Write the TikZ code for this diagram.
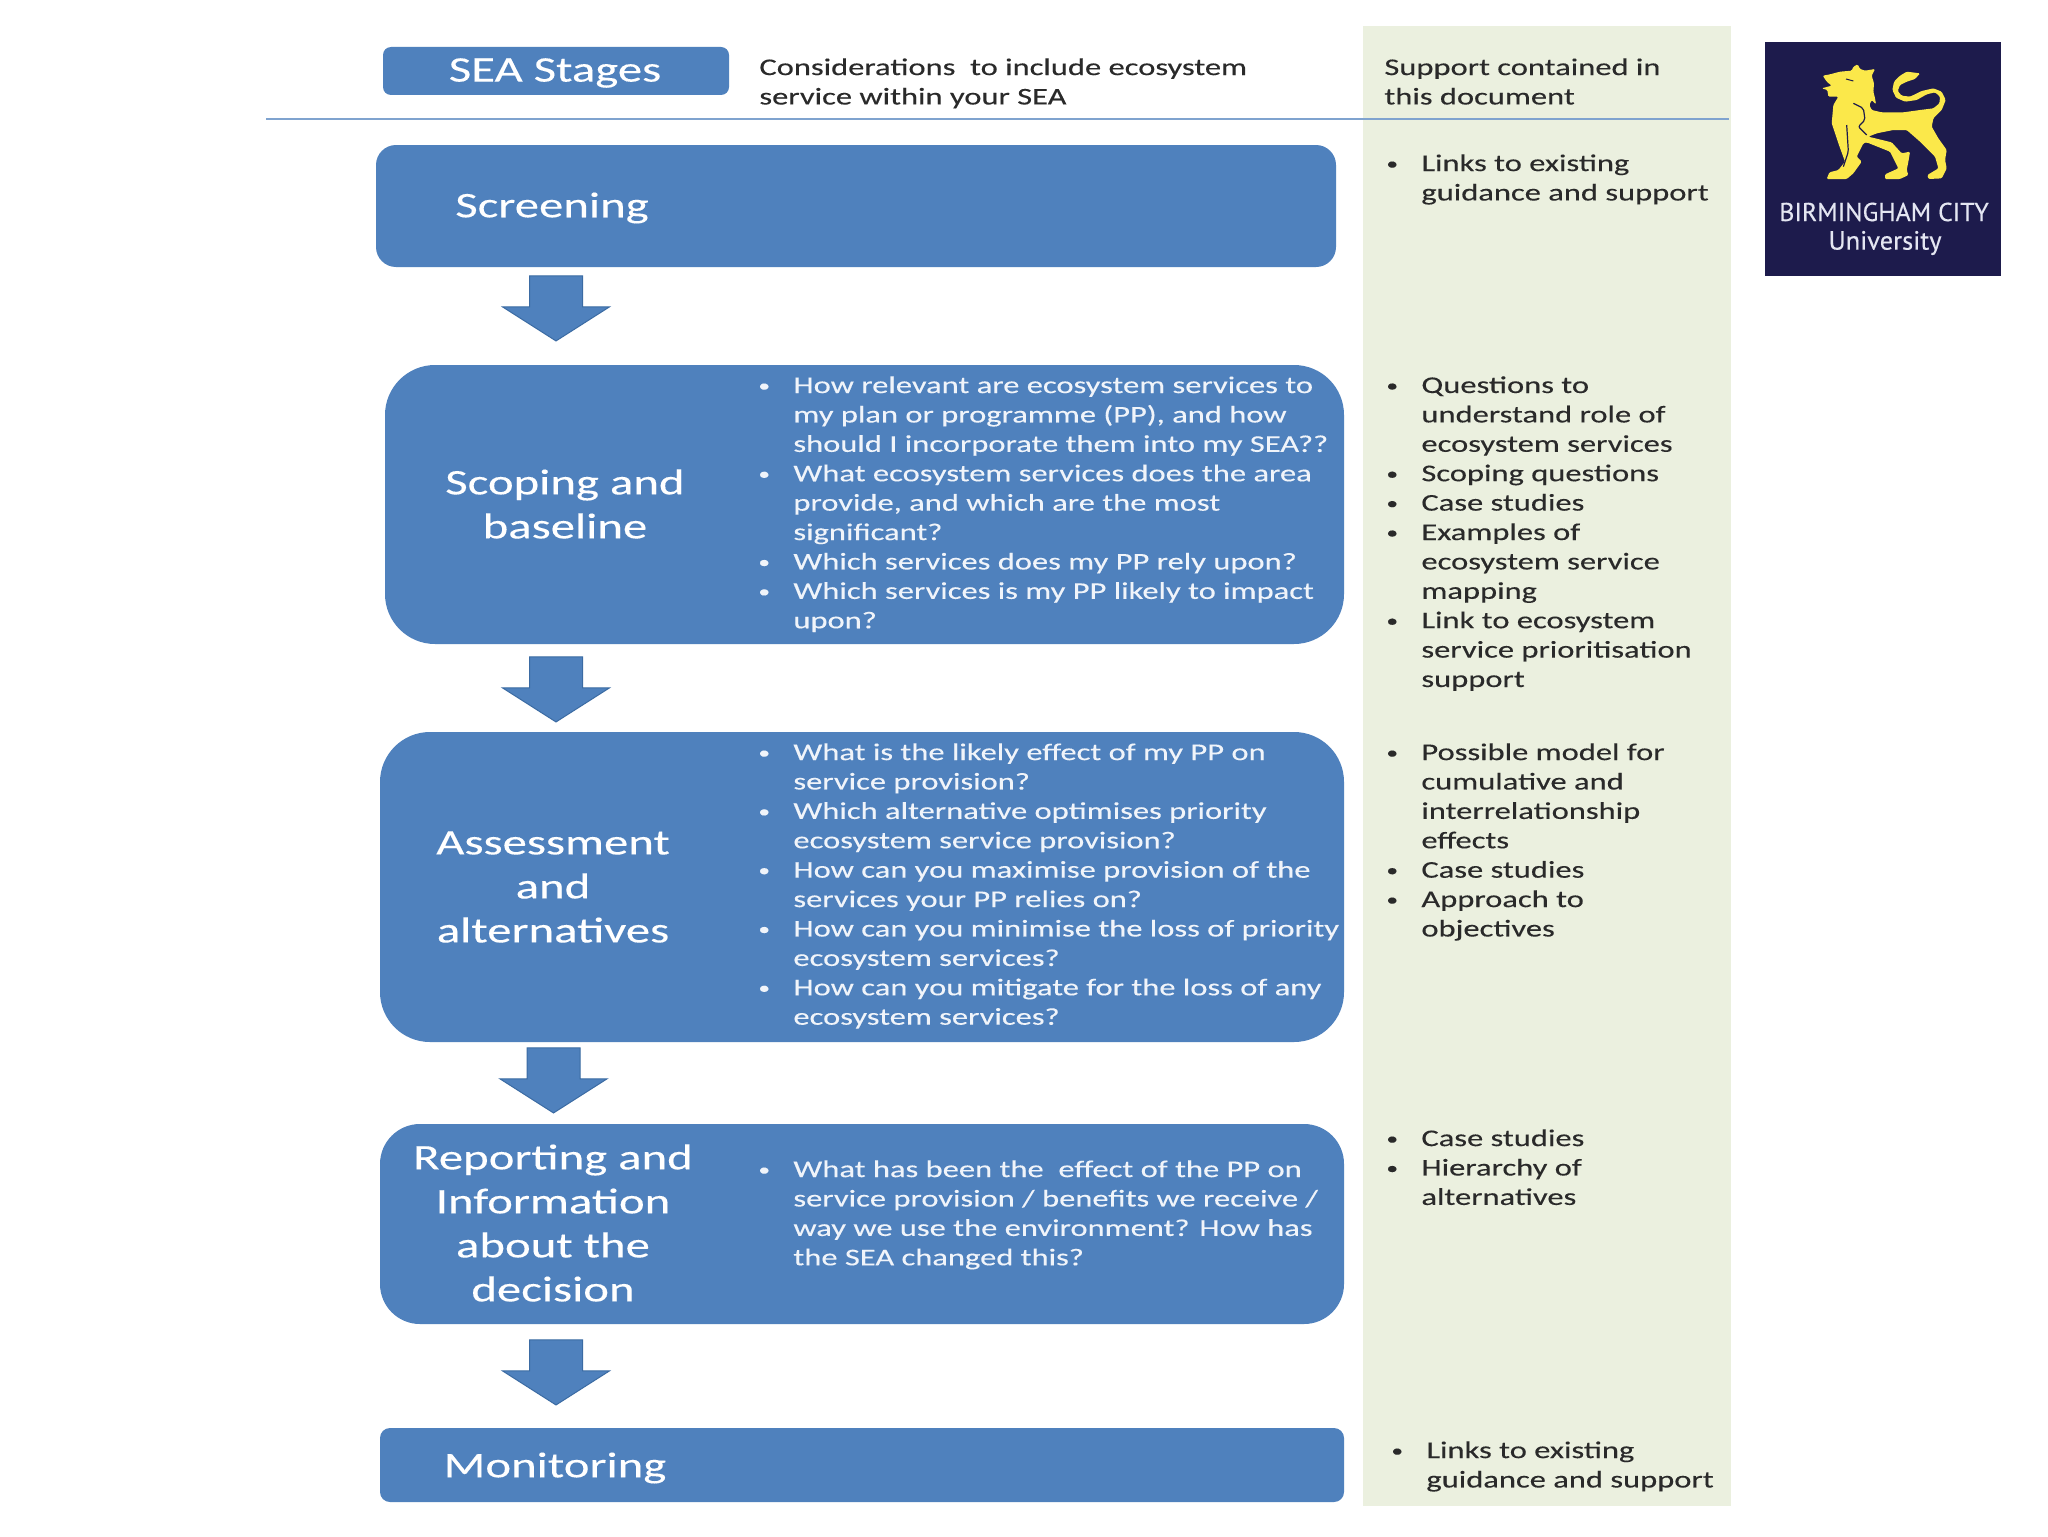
\documentclass[tikz,border=0pt]{standalone}
\usepackage{fontspec}
\setmainfont{Carlito}[FakeStretch=1.355,FakeBold=0.25]
\newfontfamily\logofont{PT Sans}[FakeBold=0.3]
\usetikzlibrary{shapes.arrows}
\definecolor{boxblue}{HTML}{4F81BD}
\definecolor{arrowedge}{HTML}{3B6BA3}
\definecolor{panelgreen}{HTML}{EBF0DF}
\definecolor{ruleblue}{HTML}{7FA3CF}
\definecolor{inkdark}{HTML}{2A2A2A}
\definecolor{bodywhite}{HTML}{F0F4FA}
\definecolor{navy}{HTML}{1D1B4C}
\definecolor{lionyellow}{HTML}{FBE84A}
\definecolor{logotext}{HTML}{E4E6F2}
\newcommand{\bl}{\makebox[17pt][l]{\hspace*{-0.5pt}\raisebox{0.8pt}{\scalebox{0.72}{\textbullet}}}}
\newcommand{\ct}{\hspace*{17pt}}
\tikzset{
  x=0.5pt,y=-0.5pt,
  stagebox/.style={fill=boxblue,draw=none,rounded corners=#1,inner sep=0pt},
  blockarrow/.style={shape=single arrow,fill=boxblue,draw=arrowedge,line width=0.5pt,
    rotate=270,single arrow tip angle=115,single arrow head extend=13.5pt,
    minimum height=32.5pt,inner xsep=0pt,inner ysep=13pt},
  title/.style={text=white,align=center,inner sep=0pt,font=\fontsize{18}{22}\selectfont},
  bodytext/.style={text=bodywhite,align=left,anchor=north west,inner sep=0pt,font=\fontsize{12}{14.7}\selectfont},
  sidetext/.style={text=inkdark,align=left,anchor=north west,inner sep=0pt,font=\fontsize{12}{14.7}\selectfont},
}
\begin{document}
\begin{tikzpicture}
\useasboundingbox (0,0) rectangle (2048,1536);
\fill[white] (0,0) rectangle (2048,1536);
% panel and rule
\node[fill=panelgreen,inner sep=0pt,minimum width=184pt,minimum height=740pt] (panel) at (1547,766) {};
\coordinate (ruleL) at (266,119);
\coordinate (ruleR) at (1729,119);
\draw[ruleblue,line width=1pt] (ruleL) -- (ruleR);
% header
\node[stagebox=4pt,minimum width=173pt,minimum height=24pt] (seabox) at (556,71) {};
\node[title] (seatxt) at (555,73) {SEA Stages};
\node[sidetext] (hdrmid) at (759,58) {Considerations\ \ to include ecosystem\\service within your SEA};
\node[sidetext] (hdrright) at (1384,58) {Support contained in\\this document};
% stage boxes
\node[stagebox=10pt,minimum width=480pt,minimum height=61pt] (screen) at (856,206) {};
\node[stagebox=25pt,minimum width=479.5pt,minimum height=139.5pt] (scope) at (864.5,504.5) {};
\node[stagebox=25pt,minimum width=482pt,minimum height=155pt] (assess) at (862,887) {};
\node[stagebox=20pt,minimum width=482pt,minimum height=100pt] (report) at (862,1224) {};
\node[stagebox=5pt,minimum width=482pt,minimum height=37pt] (monitor) at (862,1465) {};
% arrows
\node[blockarrow] (a1) at (556,300) {};
\node[blockarrow] (a2) at (556,681) {};
\node[blockarrow] (a3) at (553.5,1072) {};
\node[blockarrow] (a4) at (556,1364) {};
% titles
\node[title] (t1) at (552,208) {Screening};
\node[title] (t2) at (565,504) {Scoping and\\baseline};
\node[title] (t3) at (553,887) {Assessment\\and\\alternatives};
\node[title] (t4) at (553,1223) {Reporting and\\Information\\about the\\decision};
\node[title] (t5) at (555,1468) {Monitoring};
% body
\node[bodytext] (b2) at (759,376) {\bl How relevant are ecosystem services to\\
\ct my plan or programme (PP), and how\\
\ct should I incorporate them into my SEA??\\
\bl What ecosystem services does the area\\
\ct provide, and which are the most\\
\ct significant?\\
\bl Which services does my PP rely upon?\\
\bl Which services is my PP likely to impact\\
\ct upon?};
\node[bodytext] (b3) at (759,743) {\bl What is the likely effect of my PP on\\
\ct service provision?\\
\bl Which alternative optimises priority\\
\ct ecosystem service provision?\\
\bl How can you maximise provision of the\\
\ct services your PP relies on?\\
\bl How can you minimise the loss of priority\\
\ct ecosystem services?\\
\bl How can you mitigate for the loss of any\\
\ct ecosystem services?};
\node[bodytext] (b4) at (759,1160) {\bl What has been the\ \ effect of the PP on\\
\ct service provision / benefits we receive /\\
\ct way we use the environment? How has\\
\ct the SEA changed this?};
% side
\node[sidetext] (s1) at (1387,154) {\bl Links to existing\\
\ct guidance and support};
\node[sidetext] (s2) at (1387,376) {\bl Questions to\\
\ct understand role of\\
\ct ecosystem services\\
\bl Scoping questions\\
\bl Case studies\\
\bl Examples of\\
\ct ecosystem service\\
\ct mapping\\
\bl Link to ecosystem\\
\ct service prioritisation\\
\ct support};
\node[sidetext] (s3) at (1387,743) {\bl Possible model for\\
\ct cumulative and\\
\ct interrelationship\\
\ct effects\\
\bl Case studies\\
\bl Approach to\\
\ct objectives};
\node[sidetext] (s4) at (1387,1129) {\bl Case studies\\
\bl Hierarchy of\\
\ct alternatives};
\node[sidetext] (s5) at (1392,1441) {\bl Links to existing\\
\ct guidance and support};
% logo
\node[fill=navy,inner sep=0pt,minimum width=118pt,minimum height=117pt] (logo) at (1883,159) {};
\begin{scope}[shift={(1810,55)},x=0.1667pt,y=-0.1667pt]
\fill[lionyellow,rounded corners=0.6pt] (38,62)--(60,58)--(90,50)--(125,47)--(130,35)--(143,28)--(150,42)--(165,47)--(195,42)--(185,62)--(192,85)--(190,110)--(195,130)--(198,148)--(185,135)--(178,150)--(185,165)--(215,172)--(280,172)--(330,165)--(370,160)--(388,145)--(390,125)--(375,112)--(350,118)--(320,135)--(285,140)--(258,128)--(247,105)--(252,80)--(270,62)--(290,50)--(330,55)--(315,72)--(290,80)--(270,90)--(263,108)--(275,122)--(300,125)--(335,108)--(370,100)--(395,110)--(407,135)--(395,165)--(370,190)--(365,215)--(385,250)--(410,285)--(405,315)--(410,340)--(395,370)--(355,372)--(352,360)--(385,340)--(375,305)--(330,260)--(290,225)--(250,225)--(200,235)--(175,245)--(245,262)--(275,295)--(300,290)--(295,320)--(290,345)--(295,360)--(270,372)--(225,372)--(225,358)--(265,340)--(240,290)--(170,262)--(160,265)--(140,305)--(155,320)--(130,355)--(110,372)--(50,372)--(58,352)--(85,345)--(105,320)--(85,265)--(65,205)--(70,150)--(85,125)--(55,125)--(52,105)--(35,100)--(65,92)--(50,80)--cycle;
\draw[navy,line width=0.6pt,rounded corners=1pt] (130,145)--(160,160)--(165,195)--(145,215)--(170,240);
\draw[navy,line width=0.5pt] (108,72)--(130,78);
\draw[navy,line width=0.6pt,rounded corners=1pt] (110,210)--(115,290)--(100,335);
\end{scope}
\node[text=logotext,inner sep=0pt,font=\logofont\fontsize{12.9}{14}\selectfont] (logo1) at (1884,212) {BIRMINGHAM CITY};
\node[text=logotext,inner sep=0pt,font=\logofont\fontsize{13.2}{14}\selectfont] (logo2) at (1885,243) {University};
\end{tikzpicture}
\end{document}
